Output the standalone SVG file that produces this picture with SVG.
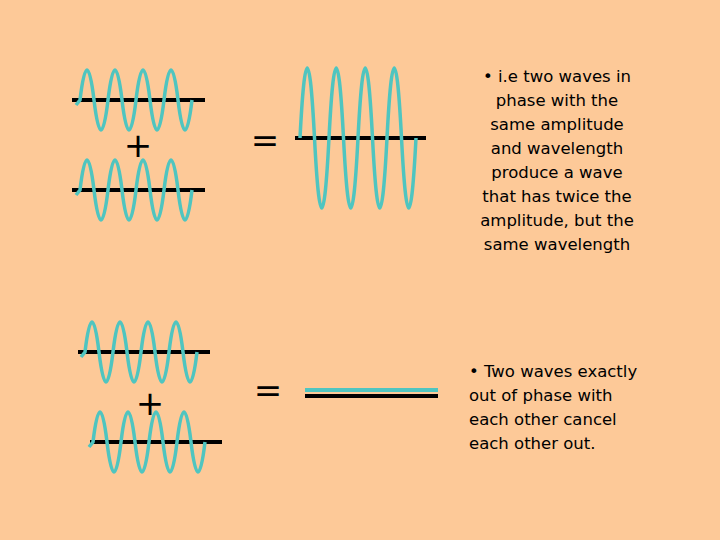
<svg xmlns="http://www.w3.org/2000/svg" width="720" height="540" viewBox="0 0 720 540">
<style>
.ax{stroke:#000;stroke-width:4}
.wv{fill:none;stroke:#4fc5c0;stroke-width:3.5}
.op{font-family:"DejaVu Sans",sans-serif;font-size:34px;fill:#000}
.t{font-family:"DejaVu Sans","Liberation Sans",sans-serif;font-size:16.5px;fill:#000}
</style>
<rect width="720" height="540" fill="#fdc998"/>
<g id="wave1"><line class="ax" x1="72" y1="100" x2="205" y2="100"/><path class="wv" d="M76 105 L80 100 q7 -60 14 0 t14 0 t14 0 t14 0 t14 0 t14 0 t14 0 t14 0"/></g>
<text class="op" x="138" y="157" text-anchor="middle">+</text>
<g id="wave2"><line class="ax" x1="72" y1="190" x2="205" y2="190"/><path class="wv" d="M76 195 L80 190 q7 -60 14 0 t14 0 t14 0 t14 0 t14 0 t14 0 t14 0 t14 0"/></g>
<text class="op" x="265" y="152" text-anchor="middle">=</text>
<g id="result1"><line class="ax" x1="295" y1="138" x2="426" y2="138"/><path class="wv" d="M300 138 q7.25 -140 14.5 0 t14.5 0 t14.5 0 t14.5 0 t14.5 0 t14.5 0 t14.5 0 t14.5 0"/></g>
<text class="t" text-anchor="middle"><tspan x="557" y="82">• i.e two waves in</tspan><tspan x="557" y="106">phase with the</tspan><tspan x="557" y="130">same amplitude</tspan><tspan x="557" y="154">and wavelength</tspan><tspan x="557" y="178">produce a wave</tspan><tspan x="557" y="202">that has twice the</tspan><tspan x="557" y="226">amplitude, but the</tspan><tspan x="557" y="250">same wavelength</tspan></text>
<g id="wave3"><line class="ax" x1="78" y1="352" x2="210" y2="352"/><path class="wv" d="M81 357 L85 352 q7 -60 14 0 t14 0 t14 0 t14 0 t14 0 t14 0 t14 0 t14 0"/></g>
<text class="op" x="150" y="415" text-anchor="middle">+</text>
<g id="wave4"><line class="ax" x1="90" y1="442" x2="222" y2="442"/><path class="wv" d="M89 447 L93 442 q7 -60 14 0 t14 0 t14 0 t14 0 t14 0 t14 0 t14 0 t14 0"/></g>
<text class="op" x="268" y="402" text-anchor="middle">=</text>
<g id="result2"><line class="ax" x1="305" y1="396" x2="438" y2="396"/><line x1="305" y1="390" x2="438" y2="390" stroke="#4fc5c0" stroke-width="4"/></g>
<text class="t"><tspan x="469" y="377">• Two waves exactly</tspan><tspan x="469" y="401">out of phase with</tspan><tspan x="469" y="425">each other cancel</tspan><tspan x="469" y="449">each other out.</tspan></text>
</svg>
